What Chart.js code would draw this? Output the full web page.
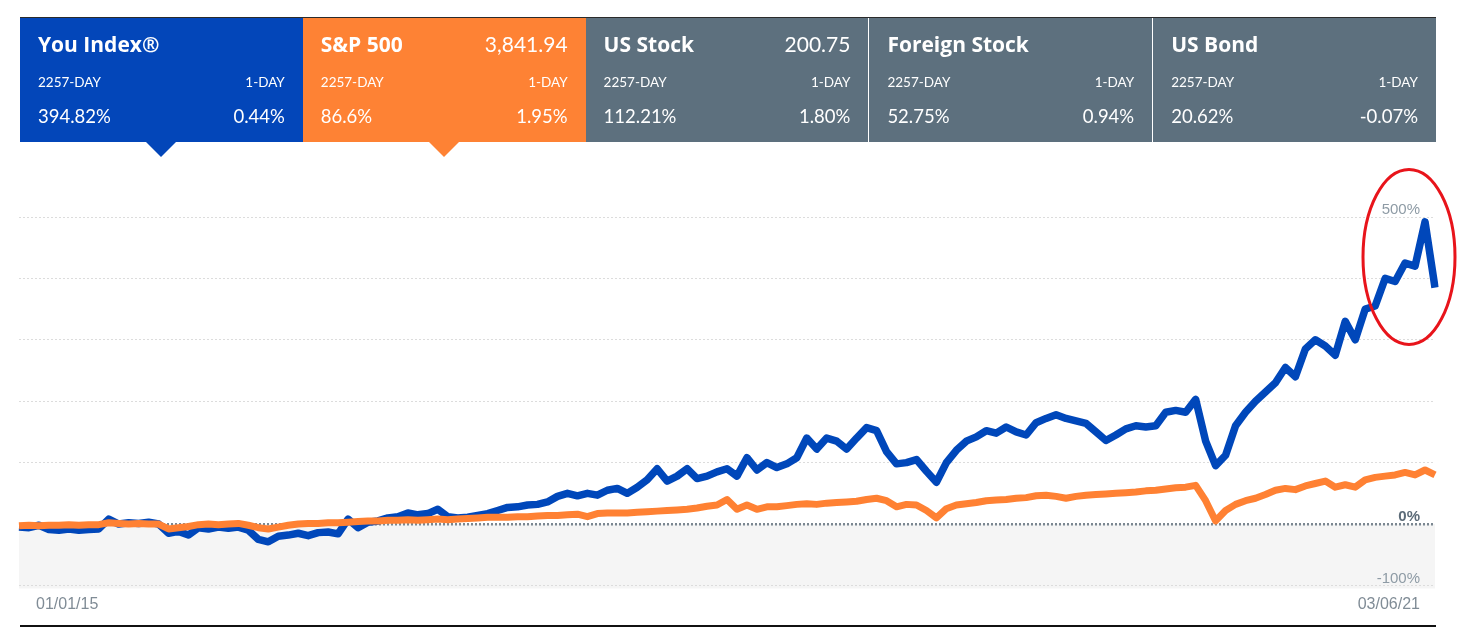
<!DOCTYPE html>
<html>
<head>
<meta charset="utf-8">
<title>You Index vs S&amp;P 500</title>
<script src="https://cdn.jsdelivr.net/npm/chart.js@4.4.1/dist/chart.umd.min.js"></script>
<style>
  body { margin: 0; background: #fff; width: 1461px; height: 638px; overflow: hidden; position: relative; font-family: Lato, "Noto Sans", sans-serif; }
  #chartCanvas { position: absolute; left: 0; top: 0; }
  #tiles { position: absolute; left: 20px; top: 17px; width: 1416px; height: 124px; border-top: 1px solid #2b2b2b; display: flex; }
  .tile { position: relative; flex: 1; height: 124px; color: #fff; box-sizing: border-box; }
  .tile.blue { background: #0346b9; }
  .tile.orange { background: #fe8234; }
  .tile.gray { background: #5d707e; }
  .tile.sep { border-left: 1px solid #fff; }
  .row { position: absolute; left: 18px; right: 18px; display: flex; justify-content: space-between; align-items: baseline; white-space: nowrap; }
  .title { top: 14px; font-family: "Open Sans", Lato, sans-serif; font-size: 21px; line-height: 24px; font-weight: bold; }
  .price { font-family: Lato, sans-serif; font-size: 21px; font-weight: normal; }
  .days { top: 58px; font-size: 13.5px; line-height: 13.5px; }
  .vals { top: 89px; font-size: 18.5px; line-height: 18.5px; }
  .arrow { position: absolute; left: 50%; bottom: -15px; margin-left: -15px; width: 0; height: 0;
           border-left: 15px solid transparent; border-right: 15px solid transparent; }
  .blue .arrow { border-top: 15px solid #0346b9; }
  .orange .arrow { border-top: 15px solid #fe8234; }
  #bottomLine { position: absolute; left: 20px; top: 625px; width: 1416px; height: 2px; background: #111; }
</style>
</head>
<body>
<canvas id="chartCanvas" width="1461" height="638"></canvas>

<div id="tiles">
  <div class="tile blue">
    <div class="row title"><span>You Index®</span></div>
    <div class="row days"><span>2257-DAY</span><span>1-DAY</span></div>
    <div class="row vals"><span>394.82%</span><span>0.44%</span></div>
    <div class="arrow"></div>
  </div>
  <div class="tile orange">
    <div class="row title"><span>S&amp;P 500</span><span class="price">3,841.94</span></div>
    <div class="row days"><span>2257-DAY</span><span>1-DAY</span></div>
    <div class="row vals"><span>86.6%</span><span>1.95%</span></div>
    <div class="arrow"></div>
  </div>
  <div class="tile gray">
    <div class="row title"><span>US Stock</span><span class="price">200.75</span></div>
    <div class="row days"><span>2257-DAY</span><span>1-DAY</span></div>
    <div class="row vals"><span>112.21%</span><span>1.80%</span></div>
  </div>
  <div class="tile gray sep">
    <div class="row title"><span>Foreign Stock</span></div>
    <div class="row days"><span>2257-DAY</span><span>1-DAY</span></div>
    <div class="row vals"><span>52.75%</span><span>0.94%</span></div>
  </div>
  <div class="tile gray sep">
    <div class="row title"><span>US Bond</span></div>
    <div class="row days"><span>2257-DAY</span><span>1-DAY</span></div>
    <div class="row vals"><span>20.62%</span><span>-0.07%</span></div>
  </div>
</div>
<div id="bottomLine"></div>

<script>
// Percent change since 01/01/15 (evenly spaced samples)
const youIndex = [
    -5, -6, -2, -9, -10, -8, -10, -9, -8, 8,
    0, 2, 1, 3, 0, -15, -12, -18, -6, -8,
    -5, -7, -5, -10, -25, -29, -20, -18, -15, -19,
    -14, -13, -16, 8, -6, 3, 5, 10, 12, 18,
    15, 17, 24, 12, 10, 11, 14, 17, 22, 27,
    28, 31, 32, 36, 45, 50, 46, 50, 47, 55,
    58, 50, 60, 72, 90, 70, 78, 90, 74, 78,
    85, 90, 78, 108, 88, 100, 92, 98, 108, 140,
    122, 140, 135, 122, 140, 157, 152, 118, 98, 100,
    105, 86, 68, 100, 120, 135, 142, 152, 148, 158,
    150, 145, 165, 172, 178, 172, 168, 164, 150, 136,
    145, 155, 160, 158, 160, 182, 185, 182, 203, 135,
    95, 112, 160, 182, 200, 215, 230, 255, 240, 285,
    300, 290, 275, 330, 300, 350, 355, 400, 395, 425,
    420, 492, 385
];
const sp500 = [
    -3, -2, -3, -2, -2, -1, -2, -1, -1, 2,
    1, 0, 1, 0, 0, -8, -6, -4, -1, 0,
    -1, 0, 1, -2, -6, -8, -5, -2, 0, 1,
    1, 2, 2, 3, 4, 5, 5, 6, 6, 7,
    6, 7, 8, 7, 8, 9, 10, 11, 11, 11,
    12, 12, 13, 14, 14, 15, 16, 12, 17, 18,
    18, 18, 19, 20, 21, 22, 23, 24, 26, 29,
    31, 40, 24, 31, 24, 28, 28, 30, 32, 33,
    32, 34, 35, 36, 37, 40, 42, 38, 28, 32,
    31, 22, 10, 25, 31, 33, 35, 38, 39, 40,
    42, 43, 46, 47, 45, 42, 45, 47, 48, 49,
    50, 51, 52, 54, 55, 57, 59, 60, 63, 38,
    5, 22, 32, 38, 42, 48, 55, 58, 56, 62,
    66, 70, 60, 64, 60, 72, 76, 78, 80, 84,
    80, 88, 80
];
const yTicks = [-100, 0, 100, 200, 300, 400, 500];
const yTickLabels = { '-100': '-100%', '0': '0%', '500': '500%' };
const dateLabels = ['01/01/15', '03/06/21'];

// Grey band under 0%, dates at both ends and the red circle around the peak
const extrasPlugin = {
    id: 'extras',
    beforeDraw(chart) {
        const { ctx, chartArea, scales } = chart;
        const y0 = scales.y.getPixelForValue(0);
        ctx.save();
        ctx.fillStyle = '#f5f5f5';
        ctx.fillRect(chartArea.left, y0, chartArea.right - chartArea.left, chartArea.bottom - y0);
        ctx.restore();
    },
    afterDraw(chart) {
        const { ctx, chartArea, scales } = chart;
        ctx.save();
        ctx.font = '16px "Liberation Sans", Arial, sans-serif';
        ctx.fillStyle = '#808c96';
        ctx.textBaseline = 'middle';
        ctx.textAlign = 'left';
        ctx.fillText(dateLabels[0], chartArea.left + 17, chartArea.bottom + 16.5);
        ctx.textAlign = 'right';
        ctx.fillText(dateLabels[1], chartArea.right - 15, chartArea.bottom + 16.5);

        ctx.strokeStyle = '#e8141b';
        ctx.lineWidth = 3;
        ctx.beginPath();
        ctx.ellipse(chartArea.right - 26, scales.y.getPixelForValue(435), 46, 87.5, 0, 0, Math.PI * 2);
        ctx.stroke();
        ctx.restore();
    }
};

new Chart(document.getElementById('chartCanvas').getContext('2d'), {
    type: 'line',
    data: {
        labels: youIndex.map((v, i) => i),
        datasets: [
            {
                label: 'S&P 500',
                data: sp500,
                borderColor: '#ff8133',
                borderWidth: 7,
                pointRadius: 0,
                tension: 0,
                borderJoinStyle: 'round'
            },
            {
                label: 'You Index®',
                data: youIndex,
                borderColor: '#0047ba',
                borderWidth: 7.5,
                pointRadius: 0,
                tension: 0,
                borderJoinStyle: 'round'
            }
        ]
    },
    options: {
        responsive: false,
        animation: false,
        devicePixelRatio: 1,
        layout: { padding: { left: 19, right: 26, top: 155.6, bottom: 49.5 } },
        plugins: {
            legend: { display: false },
            tooltip: { enabled: false }
        },
        scales: {
            x: { display: false },
            y: {
                position: 'right',
                min: -105,
                max: 600,
                afterBuildTicks: scale => { scale.ticks = yTicks.map(v => ({ value: v })); },
                afterFit: scale => { scale.width = 0; },
                grid: {
                    drawTicks: false,
                    color: ctx => ctx.tick && ctx.tick.value === 0 ? '#7b8791' : '#dcdcdc',
                    lineWidth: ctx => ctx.tick && ctx.tick.value === 0 ? 2.5 : 1
                },
                border: { display: false, dash: [2, 2] },
                ticks: {
                    mirror: true,
                    padding: -15,
                    labelOffset: -7,
                    autoSkip: false,
                    callback: v => yTickLabels[v] || '',
                    color: ctx => ctx.tick && ctx.tick.value === 0 ? '#5c6b78' : '#8e9ba5',
                    font: ctx => ({
                        family: '"Liberation Sans", Arial, sans-serif',
                        size: 15,
                        weight: ctx.tick && ctx.tick.value === 0 ? 'bold' : 'normal'
                    })
                }
            }
        }
    },
    plugins: [extrasPlugin]
});
</script>
</body>
</html>
